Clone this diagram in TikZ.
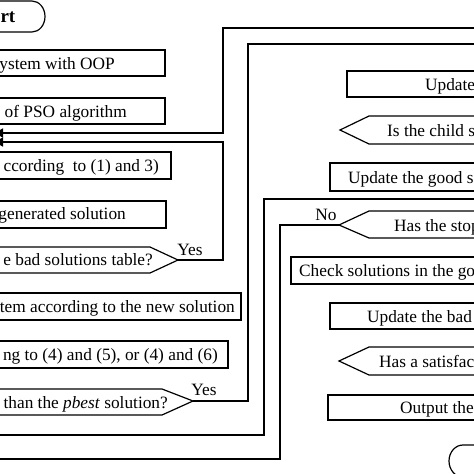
\documentclass[tikz,border=0pt]{standalone}
\usepackage{fontspec}
\setmainfont{Liberation Serif}
\usetikzlibrary{arrows.meta}
\begin{document}
\begin{tikzpicture}[x=1pt,y=-1pt,
  shp/.style={line width=1.2pt, line join=miter},
  conn/.style={line width=1.2pt},
  txt/.style={inner sep=0pt, font=\fontsize{17.3}{20}\selectfont},
  tipin/.style={-{Triangle[length=9pt,width=9pt]}}]
\fill[white] (0,0) rectangle (474,474);
\useasboundingbox (0,0) rectangle (474,474);

% ---------- left column shapes ----------
\draw[shp] (-20,1) -- (32,1) arc[start angle=90,end angle=-90,x radius=13pt,y radius=15.5pt] -- (-20,32);
\draw[shp] (-10,50) rectangle (165,76);
\draw[shp] (-10,98) rectangle (165,124);
\draw[shp] (-10,152) rectangle (171,179);
\draw[shp] (-10,201) rectangle (166,228);
\draw[shp] (-10,247) -- (150,247) -- (178,260) -- (150,273) -- (-10,273);
\draw[shp] (-10,293) rectangle (241,320);
\draw[shp] (-10,341) rectangle (228,368);
\draw[shp] (-10,389) -- (162,389) -- (193,401) -- (162,415) -- (-10,415);

% ---------- right column shapes ----------
\draw[shp] (347,71) rectangle (490,97);
\draw[shp] (490,116) -- (369,116) -- (340,130) -- (369,144) -- (490,144);
\draw[shp] (330,163) rectangle (490,191);
\draw[shp] (490,211) -- (369,211) -- (339,225) -- (369,238) -- (490,238);
\draw[shp] (291,257) rectangle (490,284);
\draw[shp] (330,303) rectangle (490,329);
\draw[shp] (490,347) -- (369,347) -- (339,361) -- (369,375) -- (490,375);
\draw[shp] (328,395) rectangle (490,420);
\draw[shp] (490,445) -- (463,445) arc[start angle=90,end angle=270,x radius=14pt,y radius=16pt] -- (490,477);

% ---------- texts ----------
\node[txt, anchor=base east, font=\fontsize{19}{22}\selectfont\bfseries] (tstart) at (15.5,22.5) {rt};
\node[txt, anchor=base east] (t1) at (115,69) {ystem with OOP};
\node[txt, anchor=base east] (t2) at (127,117) {of PSO algorithm};
\node[txt, anchor=base east] (t3) at (159,171) {ccording~ to (1) and 3)};
\node[txt, anchor=base east] (t4) at (126,219) {generated solution};
\node[txt, anchor=base east] (t5) at (153,265.5) {e bad solutions table?};
\node[txt, anchor=base east] (t6) at (235,312) {tem according to the new solution};
\node[txt, anchor=base east] (t7) at (218,360) {ng to (4) and (5), or (4) and (6)};
\node[txt, anchor=base east] (t8) at (168,408) {than the \textit{pbest} solution?};

\node[txt, anchor=base west] (r1) at (425,90) {Update};
\node[txt, anchor=base west] (r2) at (387,136.5) {Is the child s};
\node[txt, anchor=base west] (r3) at (348,183) {Update the good s};
\node[txt, anchor=base west] (r4) at (394,231) {Has the stop};
\node[txt, anchor=base west] (r5) at (299,276) {Check solutions in the go};
\node[txt, anchor=base west] (r6) at (367,322) {Update the bad};
\node[txt, anchor=base west] (r7) at (379,367.5) {Has a satisfac};
\node[txt, anchor=base west] (r8) at (400,413) {Output the};

\node[txt, anchor=base] (yes1) at (190,255) {Yes};
\node[txt, anchor=base] (yes2) at (204,395) {Yes};
\node[txt, anchor=base] (no1) at (326,220) {No};

% ---------- connector end points ----------
\coordinate (d1tip) at (178,260);
\coordinate (d2tip) at (193,401);
\coordinate (nottip) at (339,225);
\coordinate (ina) at (-6,133);
\coordinate (inb) at (-6,142);
\coordinate (ea) at (490,28);
\coordinate (eb) at (490,44);
\coordinate (ec) at (490,199);
\coordinate (wa) at (-10,435);
\coordinate (wb) at (-10,459);

% ---------- connectors ----------
\draw[conn, tipin] (ea) -| (223,133) -- (ina);
\draw[conn, tipin] (d1tip) -| (223,142) -- (inb);
\draw[conn] (d2tip) -| (248,44) -- (eb);
\draw[conn] (wa) -| (264,199) -- (ec);
\draw[conn] (wb) -| (280,225) -- (nottip);
\end{tikzpicture}
\end{document}
